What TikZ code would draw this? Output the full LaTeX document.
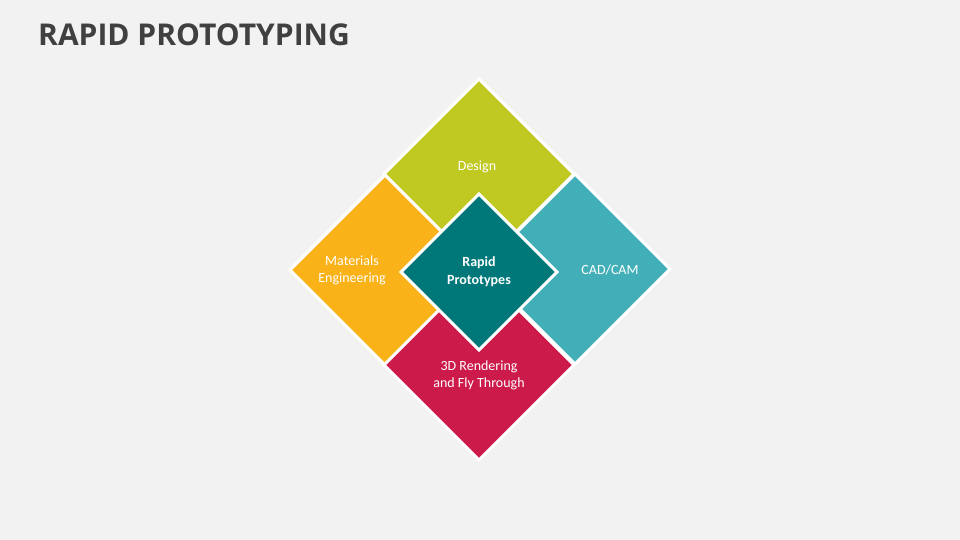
\documentclass[tikz,border=0pt]{standalone}
\usepackage{fontspec}
\setmainfont{Carlito}
\newfontfamily\titlefont{Open Sans}
\begin{document}
\begin{tikzpicture}[x=1pt,y=-1pt,
  sq/.style={draw=white,line width=3pt,line join=miter},
  lbl/.style={text=white,font=\fontsize{14}{17}\selectfont,align=center}]
\fill[fill={rgb,255:red,242;green,242;blue,242}] (0,0) rectangle (960,540);
\useasboundingbox (0,0) rectangle (960,540);
\node[anchor=base west,inner sep=0,text={rgb,255:red,64;green,64;blue,64},font=\titlefont\bfseries\fontsize{30}{36}\selectfont] (title) at (38,46) {RAPID PROTOTYPING};
\definecolor{cdes}{RGB}{192,201,34}
\definecolor{cmat}{RGB}{249,178,24}
\definecolor{ccad}{RGB}{66,175,184}
\definecolor{cren}{RGB}{204,26,74}
\definecolor{ccen}{RGB}{0,120,122}
\def\dia#1#2#3#4{\filldraw[sq,fill=#4] (#1,#2-#3) -- (#1+#3,#2) -- (#1,#2+#3) -- (#1-#3,#2) -- cycle;}
\dia{479}{174}{95}{cdes}
\dia{385}{270}{95}{cmat}
\dia{575}{269}{95}{ccad}
\dia{479}{365}{95}{cren}
\dia{479}{272}{78}{ccen}
\node[lbl] (design) at (477,167) {Design};
\node[lbl] (mat) at (352,270) {Materials\\Engineering};
\node[lbl] (cad) at (610,270) {CAD/CAM};
\node[lbl] (ren) at (479,375) {3D Rendering\\and Fly Through};
\node[lbl,font=\bfseries\fontsize{14}{18}\selectfont] (cen) at (479,272) {Rapid\\Prototypes};
\end{tikzpicture}
\end{document}
